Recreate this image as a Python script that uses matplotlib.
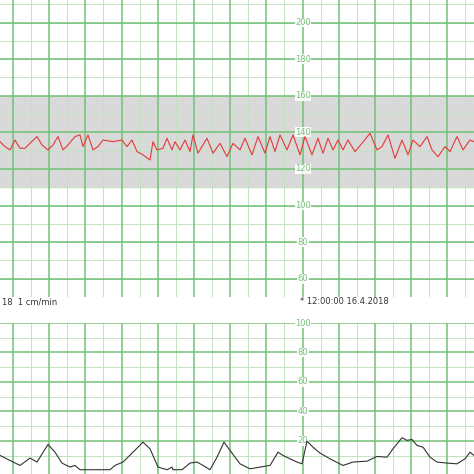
"""CTG-style trace: fetal heart rate on top, uterine activity below."""

import matplotlib.pyplot as plt
import numpy as np

# heart rate trace (x in chart px, bpm)
fhr_x = [0, 5, 10, 15, 20, 25, 30, 37, 42, 48, 53, 58, 63, 68, 75, 80, 83, 88, 93, 98, 103,
         113, 122, 127, 132, 137, 143, 150, 153, 157, 163, 167, 172, 175, 180, 185, 190, 193,
         198, 207, 213, 220, 227, 233, 240, 245, 252, 258, 265, 270, 275, 280, 287, 293, 300,
         305, 312, 318, 323, 328, 333, 338, 343, 348, 355, 362, 370, 377, 382, 388, 395, 402,
         408, 413, 420, 427, 432, 438, 445, 450, 457, 463, 470, 474]
fhr_y = [134.9, 132.2, 130.4, 135.8, 131.3, 131.3, 134.0, 137.7, 133.1, 130.4, 133.1, 137.7,
         130.4, 133.1, 137.7, 138.6, 132.2, 138.6, 130.4, 132.2, 135.8, 134.9, 135.8, 132.2,
         135.8, 129.5, 127.7, 124.9, 134.9, 130.4, 131.3, 136.8, 130.4, 134.9, 130.4, 135.8,
         129.5, 138.6, 128.6, 136.8, 128.6, 134.0, 126.7, 134.0, 130.4, 136.8, 127.7, 137.7,
         128.6, 137.7, 129.5, 138.6, 130.4, 138.6, 127.7, 137.7, 127.7, 136.8, 128.6, 136.8,
         130.4, 135.8, 130.4, 135.8, 129.5, 134.0, 139.5, 130.4, 132.2, 138.6, 125.8, 135.8,
         127.7, 135.8, 132.2, 137.7, 130.4, 126.7, 132.2, 129.5, 137.7, 130.4, 135.8, 134.9]

# uterine activity trace (x in chart px, value)
toco_x = [0, 10, 20, 30, 37, 48, 55, 62, 70, 75, 80, 110, 115, 123, 133, 143, 150, 158, 167,
          172, 173, 182, 190, 197, 203, 210, 217, 224, 230, 240, 250, 260, 270, 278, 283, 290,
          297, 302, 307, 313, 320, 330, 343, 353, 367, 377, 387, 393, 402, 407, 412, 417, 423,
          430, 437, 447, 457, 465, 470, 474]
toco_y = [10.2, 6.8, 3.4, 8.4, 5.7, 17.6, 12.4, 5.0, 2.3, 3.4, 0.5, 0.5, 3.4, 5.7, 12.4, 19.2,
          14.7, 2.3, 0.5, 2.3, 0.5, 0.5, 5.0, 5.7, 3.4, 0.5, 9.0, 19.2, 13.6, 4.5, 1.1, 2.3, 3.4,
          12.4, 10.2, 7.9, 5.7, 4.5, 19.9, 15.8, 11.8, 7.9, 3.4, 5.7, 6.3, 9.5, 9.0, 14.7, 22.2,
          20.4, 21.0, 17.0, 15.8, 9.0, 5.7, 5.0, 4.5, 7.9, 12.4, 10.2]

W = 474
MAJOR = "#74c177"
MINOR = "#c4e2c4"
LABEL_X = 303
x_major = np.arange(13, W, 36.2)
x_minor = np.arange(31, W, 36.2)


def draw_grid(axis, y_major, y_minor):
    for x in x_minor:
        axis.axvline(x, color=MINOR, linewidth=0.7, zorder=1)
    for y in y_minor:
        axis.axhline(y, color=MINOR, linewidth=0.7, zorder=1)
    for x in x_major:
        axis.axvline(x, color=MAJOR, linewidth=1.1, zorder=1)
    for y in y_major:
        axis.axhline(y, color=MAJOR, linewidth=1.1, zorder=1)
    for y in y_major:
        axis.text(LABEL_X, y, f"{y}", color="#7cc07e", fontsize=6, ha="center",
                  va="center", zorder=1.5,
                  bbox=dict(facecolor="white", edgecolor="none", pad=0.3, alpha=0.9))
    axis.set_xlim(0, W)
    axis.axis("off")


fig = plt.figure(figsize=(4.74, 4.74), dpi=100)

top = fig.add_axes([0, 1 - 297 / W, 1, 297 / W])
top.set_ylim(50.05, 212.3)
top.axhspan(110, 160, color="#d9d9d9", zorder=0)
draw_grid(top, list(range(60, 201, 20)), list(range(50, 211, 10)))
top.plot(fhr_x, fhr_y, color="#e23a3a", linewidth=0.8, zorder=2)

bottom = fig.add_axes([0, 0, 1, 151 / W])
bottom.set_ylim(-2.4, 100)
draw_grid(bottom, [20, 40, 60, 80, 100], [10, 30, 50, 70, 90])
bottom.plot(toco_x, toco_y, color="#333333", linewidth=0.8, zorder=2)

fig.text(2 / W, 1 - 302 / W, "18  1 cm/min", fontsize=6, color="#333333", va="center")
fig.text(300 / W, 1 - 302 / W, "* 12:00:00 16.4.2018", fontsize=6, color="#333333",
         va="center")

fig.savefig("out.png", dpi=100)
